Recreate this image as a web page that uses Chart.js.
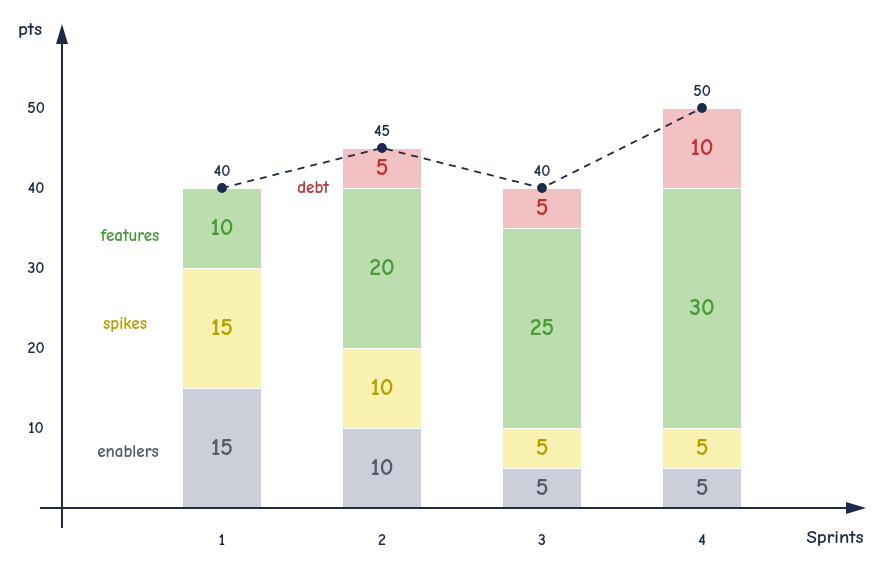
<!DOCTYPE html>
<html>
<head>
<meta charset="utf-8">
<script src="https://cdn.jsdelivr.net/npm/chart.js@4/dist/chart.umd.min.js"></script>
<style>
  html, body { margin: 0; padding: 0; background: #fff; }
  #wrap { width: 895px; height: 567px; }
</style>
</head>
<body>
<div id="wrap"><canvas id="c"></canvas></div>
<script>
const sprints = ["1", "2", "3", "4"];
const enablers = [15, 10, 5, 5];
const spikes = [15, 10, 5, 5];
const features = [10, 20, 25, 30];
const debt = [0, 5, 5, 10];
const totals = [40, 45, 40, 50];
const yTicks = [10, 20, 30, 40, 50];

const INK = "#1e2a4a";
const FONT = "'Comic Neue', 'Liberation Sans', sans-serif";

const series = [
    {label: "enablers", data: enablers, fill: "rgba(176,180,196,0.65)", text: "#555d6c", at: [0, 7, 94]},
    {label: "spikes", data: spikes, fill: "rgba(245,236,150,0.75)", text: "#b3a200", at: [0, 23, 97]},
    {label: "features", data: features, fill: "rgba(160,208,140,0.7)", text: "#4a9a3a", at: [0, 34, 92]},
    {label: "debt", data: debt, fill: "rgba(236,168,168,0.7)", text: "#c03434", at: [1, 40, 69]},
];

// axes, ticks and all labels are drawn by hand
const decor = {
    id: "decor",
    afterDatasetsDraw(chart) {
        const {ctx, scales: {x, y}} = chart;
        const y0 = y.getPixelForValue(0);
        const ax = 62;
        ctx.save();
        ctx.strokeStyle = INK;
        ctx.fillStyle = INK;
        ctx.lineWidth = 2;
        ctx.beginPath();
        ctx.moveTo(ax, 528); ctx.lineTo(ax, 28); ctx.stroke();
        ctx.beginPath();
        ctx.moveTo(ax - 6, 44); ctx.lineTo(ax, 24); ctx.lineTo(ax + 6, 44); ctx.closePath(); ctx.fill();
        ctx.beginPath();
        ctx.moveTo(40, y0); ctx.lineTo(856, y0); ctx.stroke();
        ctx.beginPath();
        ctx.moveTo(846, y0 - 6); ctx.lineTo(866, y0); ctx.lineTo(846, y0 + 6); ctx.closePath(); ctx.fill();

        ctx.font = "bold 16px " + FONT;
        ctx.textAlign = "center";
        ctx.textBaseline = "middle";
        yTicks.forEach(t => ctx.fillText(String(t), 36, y.getPixelForValue(t)));
        sprints.forEach((s, i) => ctx.fillText(s, x.getPixelForValue(i), 540));
        ctx.font = "bold 19px " + FONT;
        ctx.fillText("pts", 30, 30);
        ctx.fillText("Sprints", 835, 538);

        // values inside segments
        ctx.font = "bold 24px " + FONT;
        series.forEach((s, si) => {
            const meta = chart.getDatasetMeta(si);
            s.data.forEach((v, i) => {
                if (!v) return;
                const bar = meta.data[i];
                ctx.fillStyle = s.text;
                ctx.fillText(String(v), bar.x, (bar.y + bar.base) / 2);
            });
        });

        // segment names
        ctx.font = "bold 17px " + FONT;
        series.forEach(s => {
            const [i, v, dx] = s.at;
            ctx.fillStyle = s.text;
            ctx.fillText(s.label, x.getPixelForValue(i) - dx, y.getPixelForValue(v));
        });

        // totals
        ctx.fillStyle = INK;
        ctx.font = "bold 16px " + FONT;
        const lm = chart.getDatasetMeta(4);
        totals.forEach((t, i) => ctx.fillText(String(t), lm.data[i].x, lm.data[i].y - 17));
        ctx.restore();
    }
};

new Chart(document.getElementById("c"), {
    data: {
        labels: sprints,
        datasets: [
            ...series.map(s => ({
                type: "bar",
                label: s.label,
                data: s.data,
                backgroundColor: s.fill,
                borderColor: "rgba(255,255,255,0.6)",
                borderWidth: 1,
                categoryPercentage: 1,
                barPercentage: 0.5,
                stack: "pts",
                order: 1,
            })),
            {
                type: "line",
                label: "total",
                data: totals,
                borderColor: INK,
                backgroundColor: INK,
                borderWidth: 1.8,
                borderDash: [7, 6],
                pointRadius: 4,
                pointBackgroundColor: INK,
                fill: false,
                tension: 0,
                order: 0,
            },
        ],
    },
    options: {
        responsive: true,
        maintainAspectRatio: false,
        animation: false,
        layout: {padding: {left: 142, right: 113, top: 60, bottom: 59}},
        plugins: {legend: {display: false}, tooltip: {enabled: false}},
        scales: {
            x: {display: false, stacked: true},
            y: {display: false, stacked: true, min: 0, max: 56},
        },
    },
    plugins: [decor],
});
</script>
</body>
</html>
